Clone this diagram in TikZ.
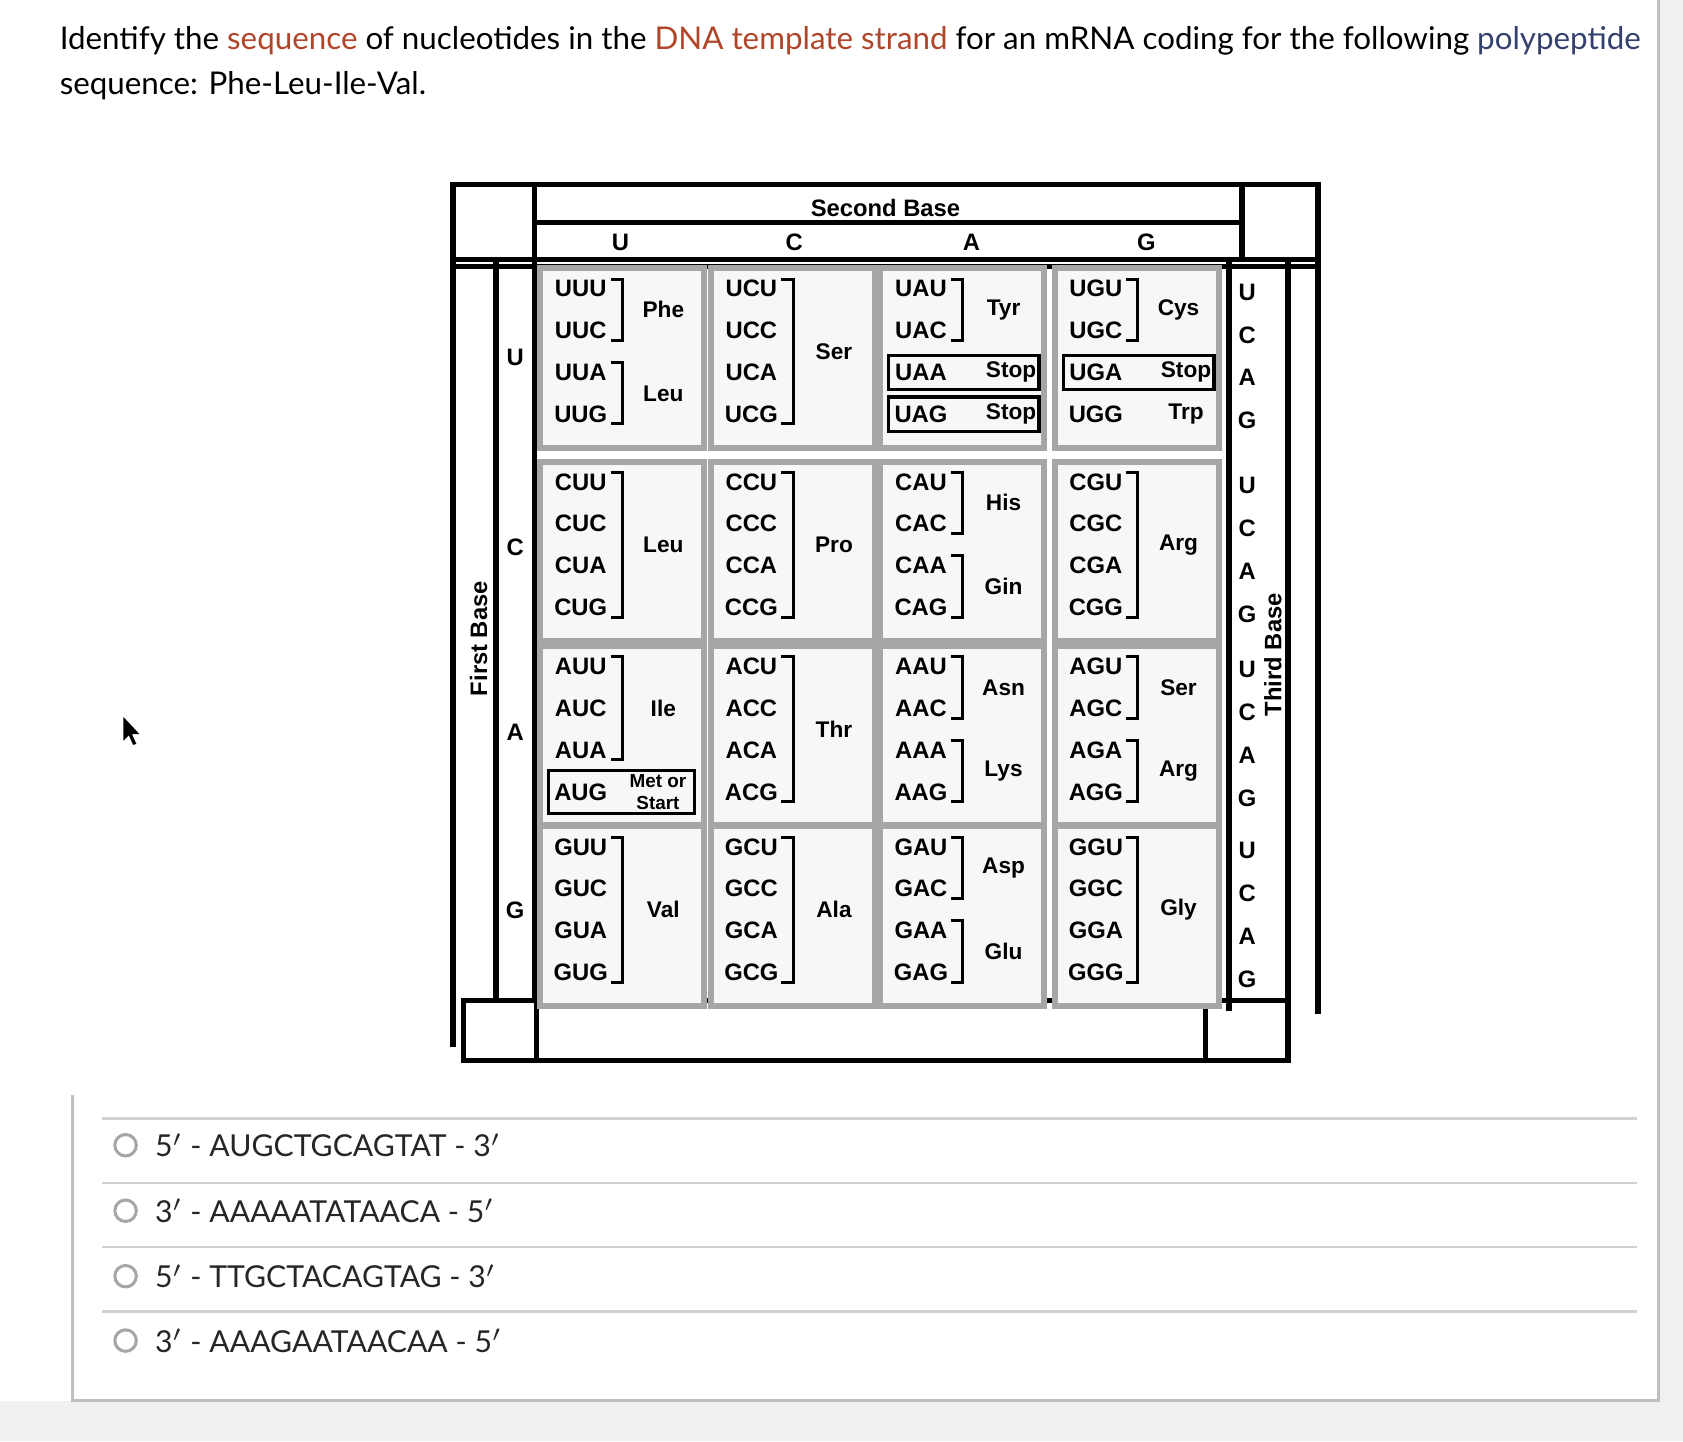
\documentclass[tikz,border=0pt]{standalone}
\usepackage{fontspec}
\setmainfont{Lato}
\newfontfamily\tabfont{Liberation Sans}
\definecolor{rust}{HTML}{B0452A}
\definecolor{navy}{HTML}{34416E}
\begin{document}
\begin{tikzpicture}[x=0.01cm,y=-0.01cm,
  cod/.style={font=\tabfont\bfseries\fontsize{6.3}{7}\selectfont,inner sep=0pt},
  aa/.style={font=\tabfont\bfseries\fontsize{6}{7}\selectfont,inner sep=0pt,align=center},
  brk/.style={line width=0.8pt},
  frame/.style={line width=1.4pt},
  cellbox/.style={draw=gray!70,line width=1.6pt,fill=gray!6},
  opt/.style={anchor=west,font=\fontsize{8}{9}\selectfont,text=black!85},
  title/.style={anchor=west,font=\fontsize{8.3}{10}\selectfont,inner sep=0pt}]
\fill[gray!12] (0,0) rectangle (1568,1343);
\fill[white] (0,0) rectangle (1545,1305);
\useasboundingbox (0,0) rectangle (1568,1343);
\draw[gray!50,line width=0.8pt] (68,1020) -- (68,1305) -- (1545,1305) -- (1545,0);
% title
\node[title] (t1) at (55,38) {Identify the \textcolor{rust}{sequence} of nucleotides in the \textcolor{rust}{DNA template strand} for an mRNA coding for the following \textcolor{navy}{polypeptide}};
\node[title] (t2) at (55,80) {sequence: Phe-Leu-Ile-Val.};
% frame
\draw[frame] (422,172) rectangle (1228,242);
\draw[frame] (422,242) -- (422,975) (462,242) -- (462,932) (498,172) -- (498,932);
\draw[frame] (498,207) -- (1157,207) (1157,172) -- (1157,242) (1145,242) -- (1145,942) (1200,242) -- (1200,988) (1228,242) -- (1228,945);
\draw[frame] (422,248) -- (1228,248);
\draw[frame] (432,932) rectangle (1200,988);
\draw[frame] (500,932) -- (500,988) (1123,932) -- (1123,988);
\node[cod] (sb) at (825,194) {Second Base};
\foreach \l/\x in {U/578,C/740,A/905,G/1068} \node[cod] (s\l) at (\x,226) {\l};
\node[cod,rotate=90] (fb) at (446,595) {First Base};
\node[cod,rotate=90] (tb) at (1186,610) {Third Base};
\foreach \l/\y in {U/333,C/510,A/682,G/848} \node[cod] (f\l) at (480,\y) {\l};
\foreach \t [count=\r] in {250,430,602,770}
  \foreach \l [count=\i] in {U,C,A,G}
    \node[cod] (t\r\l) at (1162,{\t+22+40*(\i-1)}) {\l};
% cells
\foreach \x in {503,662,820,983}
  \foreach \y in {250,430,602,770}
    \draw[cellbox] (\x,\y) rectangle ({\x+153},{\y+167});
\newcommand\cdn[6]{\foreach \c [count=\i] in {#3,#4,#5,#6} \node[cod] (c\c) at ({#1+38},{#2+19+39*(\i-1)}) {\c};}
\newcommand\brk[5]{\draw[brk] ({#1+66},{#2+19+39*(#3-1)-9}) -- ({#1+77},{#2+19+39*(#3-1)-9}) -- ({#1+77},{#2+19+39*(#4-1)+9}) -- ({#1+66},{#2+19+39*(#4-1)+9});
 \node[aa] at ({#1+115},{#2+19+39*((#3+#4)/2-1)}) {#5};}
\newcommand\stp[4]{\draw[line width=0.9pt] ({#1+8},{#2+19+39*(#3-1)-16}) rectangle ({#1+148},{#2+19+39*(#3-1)+16});
 \node[aa] at ({#1+122},{#2+19+39*(#3-1)}) {#4};}
% row U
\cdn{503}{250}{UUU}{UUC}{UUA}{UUG}\brk{503}{250}{1}{2}{Phe}\brk{503}{250}{3}{4}{Leu}
\cdn{662}{250}{UCU}{UCC}{UCA}{UCG}\brk{662}{250}{1}{4}{Ser}
\cdn{820}{250}{UAU}{UAC}{UAA}{UAG}\brk{820}{250}{1}{2}{Tyr}\stp{820}{250}{3}{Stop}\stp{820}{250}{4}{Stop}
\cdn{983}{250}{UGU}{UGC}{UGA}{UGG}\brk{983}{250}{1}{2}{Cys}\stp{983}{250}{3}{Stop}\node[aa] at (1105,{250+19+39*3}) {Trp};
% row C
\cdn{503}{430}{CUU}{CUC}{CUA}{CUG}\brk{503}{430}{1}{4}{Leu}
\cdn{662}{430}{CCU}{CCC}{CCA}{CCG}\brk{662}{430}{1}{4}{Pro}
\cdn{820}{430}{CAU}{CAC}{CAA}{CAG}\brk{820}{430}{1}{2}{His}\brk{820}{430}{3}{4}{Gin}
\cdn{983}{430}{CGU}{CGC}{CGA}{CGG}\brk{983}{430}{1}{4}{Arg}
% row A
\cdn{503}{602}{AUU}{AUC}{AUA}{AUG}\brk{503}{602}{1}{3}{Ile}
\draw[line width=0.9pt] (511,{602+19+39*3-20}) rectangle (647,{602+19+39*3+20});
\node[aa,font=\tabfont\bfseries\fontsize{5}{5.8}\selectfont] at (613,{602+19+39*3}) {Met or\\Start};
\cdn{662}{602}{ACU}{ACC}{ACA}{ACG}\brk{662}{602}{1}{4}{Thr}
\cdn{820}{602}{AAU}{AAC}{AAA}{AAG}\brk{820}{602}{1}{2}{Asn}\brk{820}{602}{3}{4}{Lys}
\cdn{983}{602}{AGU}{AGC}{AGA}{AGG}\brk{983}{602}{1}{2}{Ser}\brk{983}{602}{3}{4}{Arg}
% row G
\cdn{503}{770}{GUU}{GUC}{GUA}{GUG}\brk{503}{770}{1}{4}{Val}
\cdn{662}{770}{GCU}{GCC}{GCA}{GCG}\brk{662}{770}{1}{4}{Ala}
\cdn{820}{770}{GAU}{GAC}{GAA}{GAG}\brk{820}{770}{1}{2}{Asp}\brk{820}{770}{3}{4}{Glu}
\cdn{983}{770}{GGU}{GGC}{GGA}{GGG}\brk{983}{770}{1}{4}{Gly}
% cursor
\fill[black] (115,668) -- (115,690) -- (120,685) -- (124,694) -- (127,693) -- (123,684) -- (130,684) -- cycle;
% options
\foreach \y in {1042,1102,1162,1222} \draw[gray!35,line width=0.6pt] (95,\y) -- (1525,\y);
\foreach \y/\t [count=\i] in {1067/{5$'$ - AUGCTGCAGTAT - 3$'$},1128/{3$'$ - AAAAATATAACA - 5$'$},1189/{5$'$ - TTGCTACAGTAG - 3$'$},1249/{3$'$ - AAAGAATAACAA - 5$'$}}{
  \draw[gray!70,line width=0.8pt] (117,\y) circle (10);
  \node[opt] (o\i) at (132,\y) {\t};}
\end{tikzpicture}
\end{document}
